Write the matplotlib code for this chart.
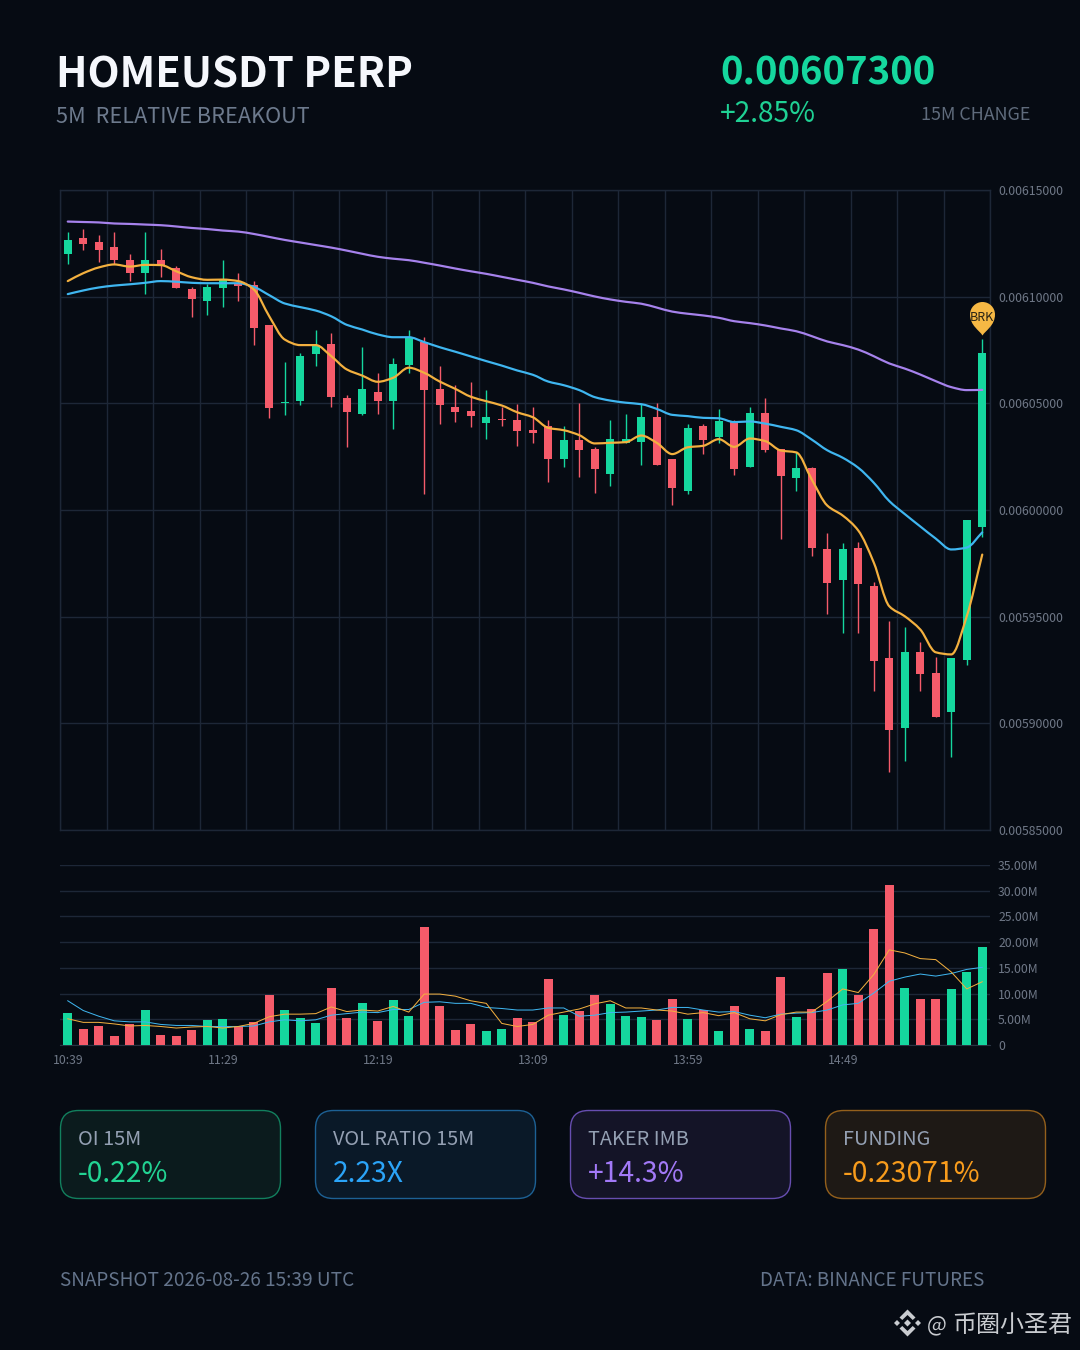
import numpy as np
import matplotlib
matplotlib.use("Agg")
import matplotlib.pyplot as plt
from matplotlib.patches import FancyBboxPatch, PathPatch, Polygon
from matplotlib.path import Path

plt.rcParams['font.family'] = ['Noto Sans CJK SC', 'DejaVu Sans']

# ---------- data (prices in units of 1e-5) ----------
times = ["10:39", "11:29", "12:19", "13:09", "13:59", "14:49"]
price_ticks = [615, 610, 605, 600, 595, 590, 585]
price_tick_labels = ["0.00615000", "0.00610000", "0.00605000", "0.00600000",
                     "0.00595000", "0.00590000", "0.00585000"]
vol_ticks = [0, 5, 10, 15, 20, 25, 30, 35]
vol_tick_labels = ["0", "5.00M", "10.00M", "15.00M", "20.00M", "25.00M", "30.00M", "35.00M"]

opens = [612.01,612.76,612.55,612.35,611.74,611.10,611.74,611.35,610.35,609.79,
         610.42,610.66,610.54,608.65,605.01,605.09,607.29,607.76,605.24,604.51,
         605.55,605.10,606.81,607.87,605.65,604.85,604.65,604.10,604.24,604.24,
         603.76,603.96,602.41,603.26,602.84,601.71,603.15,603.21,604.35,602.37,
         600.90,603.96,603.40,604.12,602.01,604.56,602.84,601.49,601.96,598.15,
         596.70,598.24,596.45,593.05,589.80,593.35,592.34,590.51,592.99,599.21]
highs = [613.04,613.15,612.91,613.04,612.02,613.04,612.24,611.43,610.43,610.60,
         611.74,611.13,610.73,608.65,606.93,607.34,608.45,608.32,605.41,607.63,
         606.43,607.13,608.43,608.12,606.73,605.84,606.02,605.63,604.84,604.95,
         604.84,604.24,603.93,605.03,602.93,604.24,604.52,604.95,605.03,602.40,
         604.04,604.04,604.74,604.20,604.84,605.23,602.84,602.73,602.03,598.93,
         598.43,598.52,596.63,594.82,594.53,593.82,593.13,593.05,599.55,608.03]
lows = [611.54,612.21,611.63,611.51,610.73,610.13,610.93,610.40,609.04,609.12,
        609.53,609.82,607.73,604.32,604.43,604.91,606.73,604.82,602.94,604.43,
        604.52,603.82,606.43,600.73,604.02,604.13,603.91,603.32,603.93,603.02,
        603.12,601.32,602.03,601.54,600.82,601.12,603.12,602.13,602.09,600.23,
        600.73,602.63,603.12,601.63,602.01,602.73,598.62,600.91,597.83,595.12,
        594.23,594.23,591.51,587.73,588.23,591.51,590.31,588.41,592.73,598.73]
closes = [612.65,612.49,612.21,611.70,611.10,611.74,611.43,610.40,609.90,610.44,
          610.84,610.49,608.51,604.80,605.05,607.24,607.73,605.31,604.58,605.65,
          605.10,606.85,608.07,605.62,604.90,604.60,604.40,604.35,604.21,603.69,
          603.59,602.41,603.26,602.80,601.90,603.35,603.35,604.35,602.10,601.01,
          603.85,603.30,604.15,601.90,604.56,602.79,601.58,601.95,598.20,596.60,
          598.15,596.51,592.90,589.71,593.35,592.30,590.31,593.05,599.55,607.34]

ma_fast = [610.73,611.10,611.37,611.51,611.41,611.49,611.48,611.19,610.91,610.79,
           610.80,610.73,610.34,609.08,607.99,607.73,607.73,607.21,606.59,606.30,
           606.01,606.20,606.67,606.43,606.02,605.68,605.31,605.10,604.90,604.58,
           604.35,603.85,603.74,603.51,603.12,603.15,603.18,603.49,603.15,602.62,
           602.94,603.01,603.32,602.96,603.35,603.23,602.79,602.70,601.43,600.21,
           599.74,599.04,597.54,595.49,595.02,594.40,593.33,593.23,595.02,597.91]
ma_mid = [610.12,610.29,610.43,610.52,610.58,610.65,610.73,610.70,610.65,610.63,
          610.63,610.63,610.46,610.07,609.68,609.51,609.35,609.08,608.68,608.46,
          608.23,608.10,608.10,607.87,607.63,607.42,607.20,606.98,606.77,606.54,
          606.34,606.02,605.85,605.62,605.29,605.13,605.03,604.96,604.74,604.46,
          604.40,604.32,604.30,604.12,604.15,604.05,603.90,603.74,603.30,602.80,
          602.45,601.98,601.28,600.42,599.81,599.23,598.66,598.15,598.24,598.95]
ma_slow = [613.52,613.50,613.48,613.43,613.41,613.38,613.35,613.29,613.22,613.17,
           613.10,613.05,612.94,612.80,612.66,612.54,612.42,612.30,612.16,612.01,
           611.87,611.78,611.71,611.59,611.46,611.32,611.19,611.07,610.93,610.79,
           610.65,610.48,610.34,610.18,610.01,609.87,609.76,609.67,609.49,609.30,
           609.20,609.12,609.01,608.85,608.76,608.65,608.51,608.38,608.15,607.90,
           607.73,607.52,607.21,606.87,606.63,606.35,606.04,605.76,605.62,605.63]

volume = [6.3,3.1,3.6,1.8,4.0,6.8,1.9,1.8,3.0,4.8,
          5.0,3.6,4.5,9.8,6.8,5.2,4.3,11.0,5.3,8.1,
          4.6,8.8,5.6,23.0,7.5,3.0,4.0,2.8,3.2,5.3,
          4.5,12.9,5.8,6.7,9.8,7.9,5.7,5.5,4.8,9.0,
          5.1,6.9,2.7,7.6,3.2,2.7,13.2,5.4,7.0,14.0,
          14.7,9.8,22.5,31.2,11.1,9.0,9.0,10.8,14.1,19.1]
vol_up = [1,0,0,0,0,1,0,0,0,1,
          1,0,0,0,1,1,1,0,0,1,
          0,1,1,0,0,0,0,1,1,0,
          0,0,1,0,0,1,1,1,0,0,
          1,0,1,0,1,0,0,1,0,0,
          1,0,0,0,1,0,0,1,1,1]
vol_ma_fast = [5.1,4.4,4.4,4.1,3.7,3.8,3.6,3.3,3.5,3.6,
               3.3,3.6,4.2,5.5,6.0,6.0,6.1,7.4,6.5,6.8,
               6.6,7.5,6.4,9.9,9.9,9.5,8.6,8.1,4.2,3.6,
               4.0,5.8,6.4,7.0,8.0,8.6,7.2,7.2,6.8,6.6,
               6.0,6.3,5.7,6.3,5.1,4.7,5.9,6.4,6.4,8.5,
               10.9,10.2,13.7,18.5,17.9,16.8,16.6,14.2,10.9,12.3]
vol_ma_slow = [8.6,6.7,5.6,4.7,4.5,4.5,4.0,3.8,3.8,3.6,
               3.6,3.6,3.7,4.5,4.9,4.7,4.9,5.8,6.1,6.4,
               6.3,6.9,6.9,8.3,8.4,8.1,8.1,7.3,7.1,6.8,
               6.8,7.2,7.2,5.6,5.8,6.3,6.4,6.6,6.8,7.3,
               7.3,6.8,6.4,6.5,5.8,5.3,6.0,6.2,6.3,6.8,
               7.8,8.1,10.1,12.4,13.2,13.8,13.4,13.9,14.7,15.1]

# ---------- style ----------
BG = "#060b13"
GRID = "#1d2737"
GREEN = "#15d79e"
RED = "#f55b6a"
PURPLE = "#a682ec"
BLUE = "#3fb6f0"
YELLOW = "#f3b03f"
TICK = "#6f7887"
W, H = 1080, 1350
px = 0.72  # points per pixel at dpi 100


def rect(x0, y0, x1, y1):
    return [x0 / W, 1 - y1 / H, (x1 - x0) / W, (y1 - y0) / H]


def smooth(ax, xs, ys, color, lw):
    """Monotone cubic curve through the given values."""
    xs = np.asarray(xs, float)
    ys = np.asarray(ys, float)
    d = np.diff(ys)
    m = np.zeros_like(ys)
    m[0], m[-1] = d[0], d[-1]
    for i in range(1, len(ys) - 1):
        if d[i - 1] * d[i] > 0:
            m[i] = 2 * d[i - 1] * d[i] / (d[i - 1] + d[i])
    verts = [(xs[0], ys[0])]
    codes = [Path.MOVETO]
    for i in range(len(ys) - 1):
        verts += [(xs[i] + 1 / 3, ys[i] + m[i] / 3),
                  (xs[i + 1] - 1 / 3, ys[i + 1] - m[i + 1] / 3),
                  (xs[i + 1], ys[i + 1])]
        codes += [Path.CURVE4] * 3
    ax.add_patch(PathPatch(Path(verts, codes), fill=False, ec=color, lw=lw,
                           capstyle='round', joinstyle='round', zorder=5))


fig = plt.figure(figsize=(W / 100, H / 100), dpi=100, facecolor=BG)

# overlay for header, cards and footer
ov = fig.add_axes([0, 0, 1, 1], zorder=0)
ov.set_xlim(0, W)
ov.set_ylim(H, 0)
ov.axis('off')


def label(x, y, s, size, color, weight='normal', ha='left'):
    ov.text(x, y, s, fontsize=size * px, color=color, fontweight=weight, ha=ha, va='baseline')


label(56.5, 88, "HOMEUSDT PERP", 41.8, "#f5f7fc", 'bold')
label(56, 123, "5M  RELATIVE BREAKOUT", 21.7, "#6d7a8d")
label(720, 84.5, "0.00607300", 38.3, GREEN, 'bold')
label(720, 122, "+2.85%", 28.1, "#1fd194")
label(1030, 120, "15M CHANGE", 17.9, "#5f6b7c", ha='right')
label(60, 1286, "SNAPSHOT 2026-08-26 15:39 UTC", 19, "#64748b")
label(760, 1286, "DATA: BINANCE FUTURES", 18.9, "#64748b")

cards = [
    (60, "OI 15M", "-0.22%", "#0b1b1d", "#12805e", "#22d493"),
    (315, "VOL RATIO 15M", "2.23X", "#0a1928", "#1d6195", "#2ba4f8"),
    (570, "TAKER IMB", "+14.3%", "#141427", "#674eb0", "#a279f7"),
    (825, "FUNDING", "-0.23071%", "#1e1915", "#94601c", "#f89c1c"),
]
for x, title, value, fill, edge, col in cards:
    ov.add_patch(FancyBboxPatch((x + 0.5, 1110.5), 220, 88,
                                boxstyle="round,pad=0,rounding_size=18",
                                fc=fill, ec=edge, lw=1.0))
    label(x + 18, 1145, title, 19.9, "#94a0b3")
    label(x + 18, 1182, value, 28.2, col)

# watermark
wm = "#c9ccd0"
cx, cy = 907.5, 1323
for pts in [
    [(0, -3.5), (3.5, 0), (0, 3.5), (-3.5, 0)],
    [(-13.5, 0), (-10.5, -3), (-7.5, 0), (-10.5, 3)],
    [(13.5, 0), (10.5, -3), (7.5, 0), (10.5, 3)],
    [(0, -13.5), (8, -5.5), (5.2, -3), (0, -8), (-5.2, -3), (-8, -5.5)],
    [(0, 13.5), (8, 5.5), (5.2, 3), (0, 8), (-5.2, 3), (-8, 5.5)],
]:
    ov.add_patch(Polygon([(cx + a, cy + b) for a, b in pts], closed=True, fc=wm, ec='none'))
ov.text(927, 1331, "@", fontsize=21 * px, color=wm, va='baseline')
ov.text(952, 1332, "币圈小圣君", fontsize=24 * px, color=wm, va='baseline')

# ---------- price chart ----------
ax = fig.add_axes(rect(60, 190, 990, 830), zorder=1)
ax.set_facecolor('none')
idx = np.arange(len(opens))
o, h, l, c = map(np.array, (opens, highs, lows, closes))
ax.set_xlim(-0.5, 59.5)
ax.set_ylim(585, 615)
for sp in ax.spines.values():
    sp.set_color(GRID)
    sp.set_linewidth(1)
ax.set_xticks(np.arange(-0.5, 60, 3))
ax.set_xticklabels([])
ax.tick_params(axis='x', length=0)
ax.set_yticks(price_ticks)
ax.set_yticklabels(price_tick_labels)
ax.yaxis.tick_right()
ax.tick_params(axis='y', length=0, pad=5.8, labelsize=12.2 * px, labelcolor=TICK)
ax.grid(True, color=GRID, lw=1)
ax.set_axisbelow(True)

up = c >= o
up[28] = False
colors = np.where(up, GREEN, RED)
ax.vlines(idx, l, h, colors=colors, lw=1.0, zorder=3)
top = np.maximum(o, c)
bot = np.minimum(o, c)
heights = np.maximum(top - bot, 0.05)
ax.bar(idx, heights, bottom=bot, width=8 / 15.5, color=colors, lw=0, zorder=4)

smooth(ax, idx, ma_slow, PURPLE, 2.2 * px)
smooth(ax, idx, ma_mid, BLUE, 2.2 * px)
smooth(ax, idx, ma_fast, YELLOW, 2.2 * px)

# breakout pin: tip at the marked price
k = 0.5523 * 12.5
pin = Path(
    [(0, 0), (-3, 5), (-12.5, 10), (-12.5, 21), (-12.5, 21 + k), (-k, 33.5), (0, 33.5),
     (k, 33.5), (12.5, 21 + k), (12.5, 21), (12.5, 10), (3, 5), (0, 0), (0, 0)],
    [Path.MOVETO] + [Path.CURVE4] * 12 + [Path.CLOSEPOLY])
pin_price = 608.18
pin_index = 59
ax.plot([pin_index], [pin_price], marker=pin, ms=67 * px, mfc="#f6b844", mec='none',
        ls='none', zorder=6, clip_on=False)
ax.annotate("BRK", (pin_index, pin_price), xytext=(0, 18 * px), textcoords='offset points',
            ha='center', va='center', fontsize=12.5 * px, color="#2a2415", zorder=7,
            annotation_clip=False)

# ---------- volume chart ----------
av = fig.add_axes(rect(60, 865, 990, 1045), zorder=1)
av.set_facecolor('none')
av.set_xlim(-0.5, 59.5)
av.set_ylim(0, 35)
for name, sp in av.spines.items():
    sp.set_visible(name == 'bottom')
    sp.set_color("#2a3442")
av.set_yticks(vol_ticks)
av.set_yticklabels(vol_tick_labels)
av.yaxis.tick_right()
av.tick_params(axis='y', length=0, pad=5.8, labelsize=12.2 * px, labelcolor=TICK)
av.yaxis.grid(True, color=GRID, lw=1)
av.set_axisbelow(True)
av.set_xticks(np.arange(len(times)) * 10)
av.set_xticklabels(times)
av.tick_params(axis='x', length=0, pad=6.5, labelsize=12.2 * px, labelcolor=TICK)
vol_colors = [GREEN if u else RED for u in vol_up]
av.bar(idx, volume, width=8.6 / 15.5, color=vol_colors, lw=0, zorder=3)
av.plot(idx, vol_ma_slow, color=BLUE, lw=1 * px, zorder=4)
av.plot(idx, vol_ma_fast, color=YELLOW, lw=1 * px, zorder=5)

fig.savefig("out.png", dpi=100, facecolor=BG)
